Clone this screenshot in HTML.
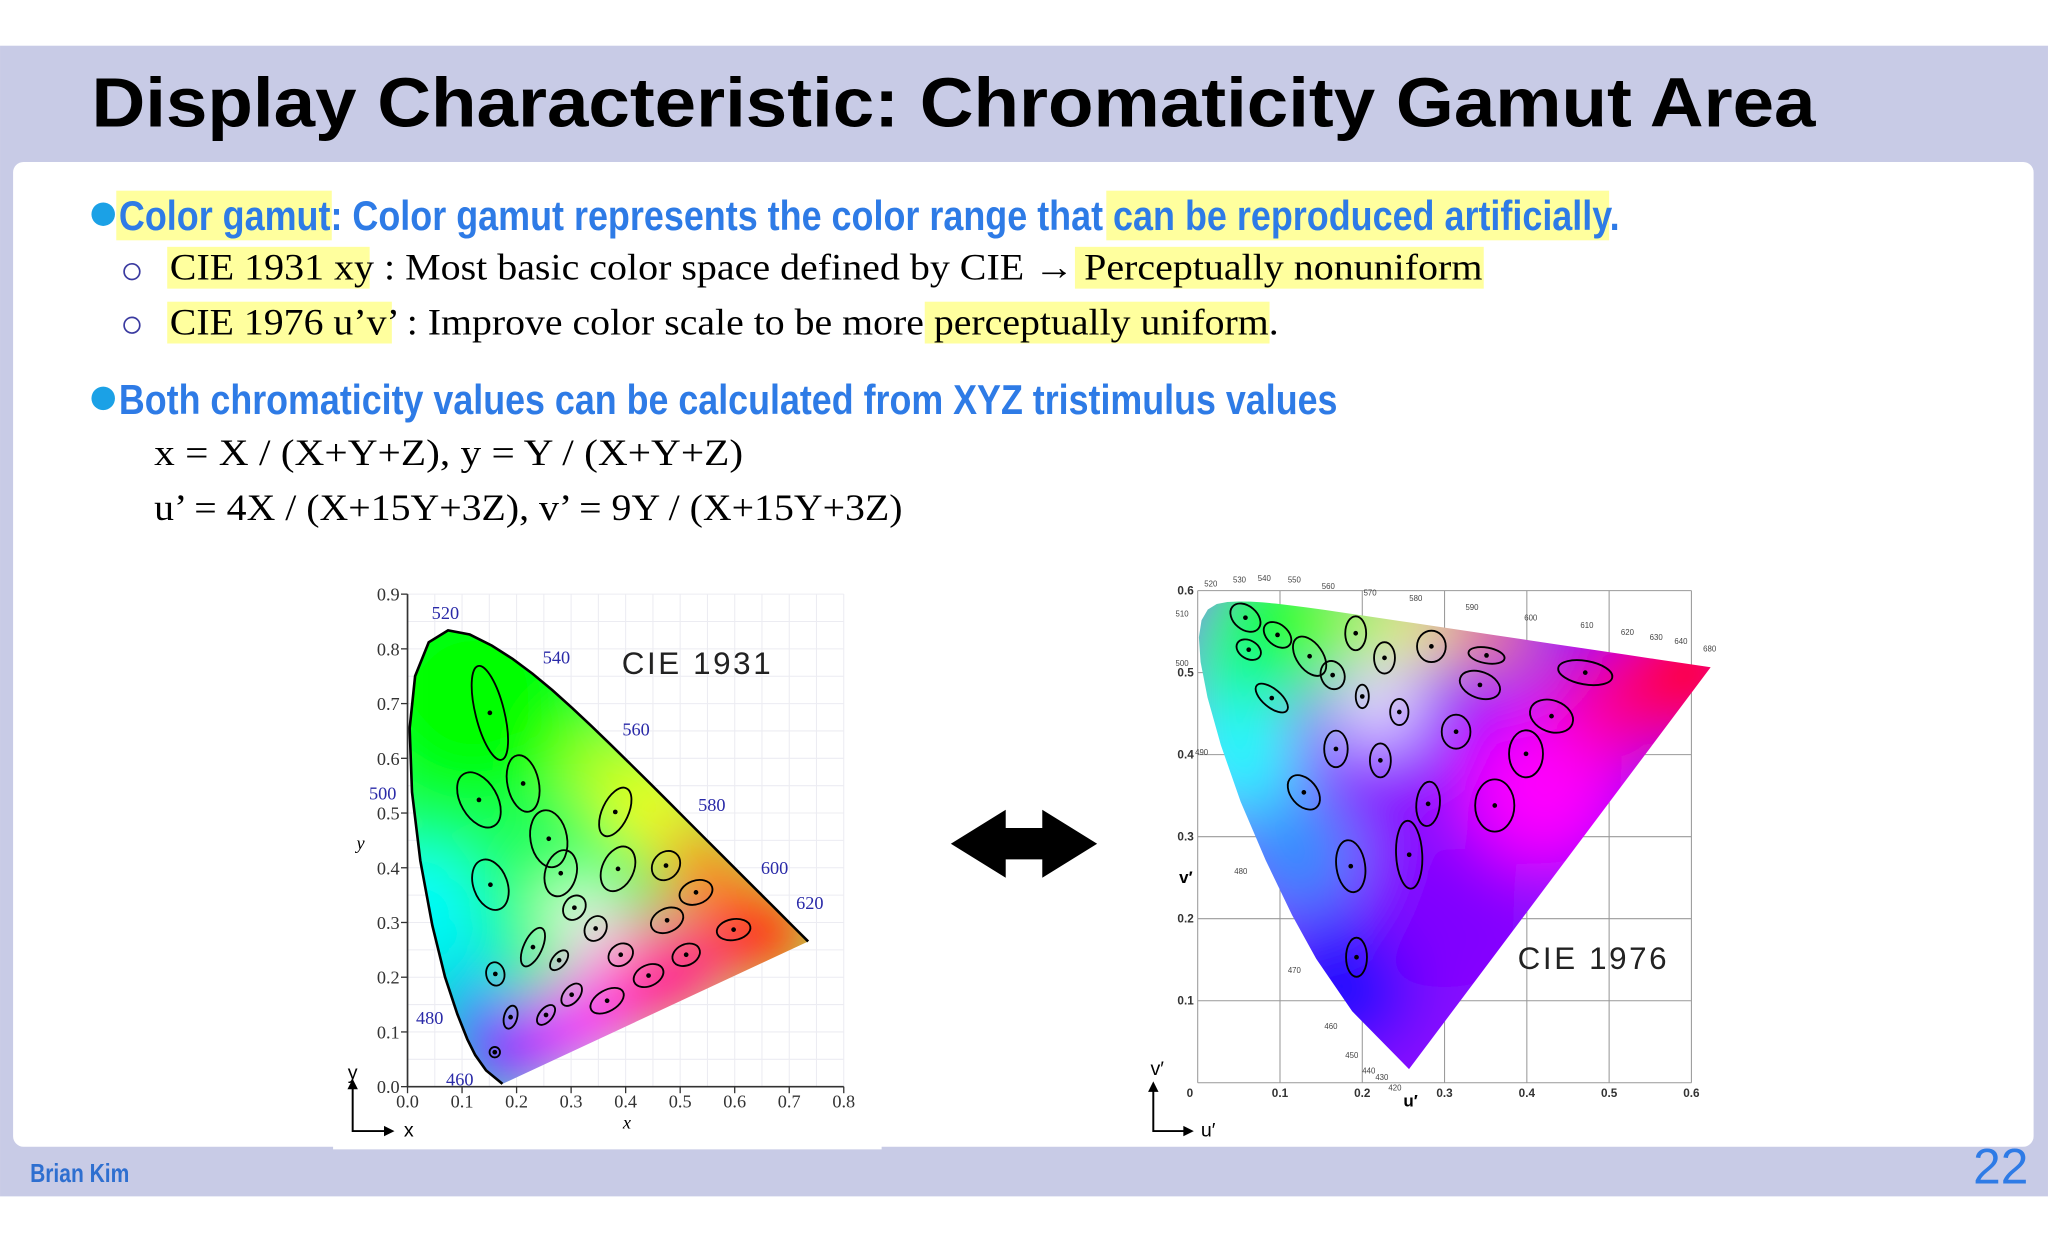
<!DOCTYPE html>
<html><head><meta charset="utf-8"><style>
html,body{margin:0;padding:0;background:#fff;}
svg{display:block;}
.sans{font-family:"Liberation Sans",sans-serif;}
.narrow{font-family:"Liberation Sans Narrow","Liberation Sans",sans-serif;}
.serif{font-family:"Liberation Serif",serif;}
</style></head><body>
<svg id="slide" width="2048" height="1243" viewBox="0 0 1568 951.7" xmlns="http://www.w3.org/2000/svg">
<defs>
<filter id="blur1" filterUnits="userSpaceOnUse" x="200" y="380" width="550" height="550"><feGaussianBlur stdDeviation="24"/></filter>
<filter id="blur2" filterUnits="userSpaceOnUse" x="850" y="380" width="550" height="550"><feGaussianBlur stdDeviation="26"/></filter>
<clipPath id="clip1931"><path id="clip1931p"/></clipPath>
<clipPath id="clip1976"><path id="clip1976p"/></clipPath>
</defs>
<rect x="0" y="0" width="1568" height="951.7" fill="#fff"/>
<rect x="0" y="35" width="1568" height="881" fill="#c8cbe6"/>
<rect x="10" y="124" width="1547" height="754" rx="8" fill="#fff"/>
<text class="sans" x="70" y="97" font-size="53" font-weight="bold" textLength="1320" lengthAdjust="spacingAndGlyphs">Display Characteristic: Chromaticity Gamut Area</text>

<circle cx="79" cy="164" r="9" fill="#1ba1e6"/>
<rect x="89" y="146" width="165" height="38" fill="#ffff9e"/>
<rect x="847" y="146" width="385" height="38" fill="#ffff9e"/>
<text class="narrow" x="91" y="176" font-size="32" font-weight="bold" fill="#2e7be6" textLength="1149" lengthAdjust="spacingAndGlyphs">Color gamut: Color gamut represents the color range that can be reproduced artificially.</text>

<rect x="128" y="189" width="155" height="32" fill="#ffff9e"/>
<rect x="823" y="189" width="313" height="32" fill="#ffff9e"/>
<circle cx="101" cy="208" r="6" fill="none" stroke="#3a3aa0" stroke-width="1.3"/>
<text class="serif" x="130" y="214" font-size="28" textLength="1005" lengthAdjust="spacingAndGlyphs">CIE 1931 xy : Most basic color space defined by CIE → Perceptually nonuniform</text>

<rect x="128" y="231" width="172" height="32" fill="#ffff9e"/>
<rect x="708" y="231" width="264" height="32" fill="#ffff9e"/>
<circle cx="101" cy="249" r="6" fill="none" stroke="#3a3aa0" stroke-width="1.3"/>
<text class="serif" x="130" y="256" font-size="28" textLength="849" lengthAdjust="spacingAndGlyphs">CIE 1976 u’v’ : Improve color scale to be more perceptually uniform.</text>

<circle cx="79" cy="305" r="9" fill="#1ba1e6"/>
<text class="narrow" x="91" y="317" font-size="32" font-weight="bold" fill="#2e7be6" textLength="933" lengthAdjust="spacingAndGlyphs">Both chromaticity values can be calculated from XYZ tristimulus values</text>
<text class="serif" x="118" y="356" font-size="28" textLength="451" lengthAdjust="spacingAndGlyphs">x = X / (X+Y+Z), y = Y / (X+Y+Z)</text>
<text class="serif" x="118" y="398" font-size="28" textLength="573" lengthAdjust="spacingAndGlyphs">u’ = 4X / (X+15Y+3Z), v’ = 9Y / (X+15Y+3Z)</text>

<path d="M728,646 L770,620 L770,634 L798,634 L798,620 L840,646 L798,672 L798,658 L770,658 L770,672 Z" fill="#000"/>

<g id="chart1931"></g>
<g id="chart1976"></g>

<text class="narrow" x="23" y="905" font-size="20" font-weight="bold" fill="#2e6fd0" textLength="76" lengthAdjust="spacingAndGlyphs">Brian Kim</text>
<text class="sans" x="1553" y="906" font-size="38" fill="#2e7be6" text-anchor="end">22</text>
</svg>
<script>
const locusX=[0.1741,0.1440,0.1241,0.1096,0.0913,0.0687,0.0454,0.0235,0.0082,0.0039,0.0139,0.0389,0.0743,0.1142,0.1547,0.1929,0.2296,0.2658,0.3016,0.3373,0.3731,0.4087,0.4441,0.4788,0.5125,0.5448,0.5752,0.6029,0.6270,0.6482,0.6658,0.6801,0.6915,0.7079,0.7347];
const locusY=[0.0050,0.0297,0.0578,0.0868,0.1327,0.2007,0.2950,0.4127,0.5384,0.6548,0.7502,0.8120,0.8338,0.8262,0.8059,0.7816,0.7543,0.7243,0.6923,0.6589,0.6245,0.5896,0.5547,0.5202,0.4866,0.4544,0.4242,0.3965,0.3725,0.3514,0.3340,0.3197,0.3083,0.2920,0.2653];
const e31X=[0.151,0.212,0.131,0.259,0.281,0.381,0.152,0.386,0.474,0.529,0.306,0.345,0.476,0.598,0.230,0.278,0.391,0.511,0.161,0.301,0.442,0.366,0.189,0.254,0.160];
const e31Y=[0.683,0.554,0.524,0.453,0.390,0.502,0.369,0.398,0.404,0.355,0.327,0.289,0.304,0.287,0.255,0.231,0.241,0.241,0.206,0.168,0.203,0.157,0.127,0.131,0.063];
const e76U=[0.058,0.097,0.062,0.136,0.192,0.164,0.227,0.284,0.351,0.090,0.200,0.245,0.343,0.471,0.168,0.222,0.314,0.430,0.399,0.129,0.280,0.361,0.186,0.257,0.193];
const e76V=[0.567,0.546,0.528,0.520,0.548,0.497,0.518,0.532,0.521,0.469,0.471,0.452,0.485,0.500,0.407,0.393,0.428,0.447,0.401,0.354,0.340,0.338,0.264,0.278,0.153];
const ticks31=["0.0","0.1","0.2","0.3","0.4","0.5","0.6","0.7","0.8","0.9"];
const ticksU=["0","0.1","0.2","0.3","0.4","0.5","0.6"];

const NS="http://www.w3.org/2000/svg";
function mk(tag,attrs,parent,txt){const e=document.createElementNS(NS,tag);for(const k in attrs)e.setAttribute(k,attrs[k]);if(txt!==undefined)e.textContent=txt;parent.appendChild(e);return e;}
const blob=(g,cx,cy,r,c)=>mk('circle',{cx,cy,r,fill:c},g);

// ----- CIE 1931 -----
const g1=document.getElementById('chart1931');
const X0=312,Y0=832,SX=417.5,SY=419;
const px=x=>X0+x*SX, py=y=>Y0-y*SY;
const bg1=mk('rect',{x:255,y:440,width:420,height:440,fill:'#fff'},g1);


for(let i=1;i<=16;i++){const l=mk('line',{x1:px(i*0.05),y1:py(0),x2:px(i*0.05),y2:py(0.9),stroke:'#ececf2','stroke-width':0.8},g1);}
for(let i=1;i<=18;i++){const l=mk('line',{x1:px(0),y1:py(i*0.05),x2:px(0.8),y2:py(i*0.05),stroke:'#ececf2','stroke-width':0.8},g1);}
let d1='M'+locusX.map((x,i)=>px(x)+','+py(locusY[i])).join(' L')+' Z';
document.getElementById('clip1931p').setAttribute('d',d1);
const fill1=mk('g',{'clip-path':'url(#clip1931)'},g1);


const bl1=mk('g',{filter:'url(#blur1)'},fill1);
mk('rect',{x:px(-0.1),y:py(1.0),width:SX*1.0,height:SY*1.1,fill:'#20ff60'},bl1);
blob(bl1,px(0.12),py(0.72),90,'#00ff00');
blob(bl1,px(0.02),py(0.32),50,'#00ffff');
blob(bl1,px(0.09),py(0.25),35,'#00f0f0');
blob(bl1,px(0.12),py(0.12),35,'#0090ff');
blob(bl1,px(0.16),py(0.04),35,'#2020ff');
blob(bl1,px(0.25),py(0.08),40,'#b000ff');
blob(bl1,px(0.35),py(0.13),40,'#ff00ff');
blob(bl1,px(0.48),py(0.2),50,'#ff0090');
blob(bl1,px(0.66),py(0.28),45,'#ff0000');
blob(bl1,px(0.55),py(0.4),35,'#ff8000');
blob(bl1,px(0.44),py(0.52),35,'#ffff00');
blob(bl1,px(0.36),py(0.58),30,'#c0ff00');
blob(bl1,px(0.31),py(0.32),22,'#ffffff');
blob(bl1,px(0.35),py(0.27),22,'#ffd0ff');
const loc1=mk('path',{d:d1.replace(/ Z$/,''),fill:'none',stroke:'#000','stroke-width':2},g1);


const ax1=mk('path',{d:`M${px(0)},${py(0.9)} L${px(0)},${py(0)} L${px(0.8)},${py(0)}`,fill:'none',stroke:'#333','stroke-width':1.3},g1);


ticks31.forEach((t,i)=>{
  const v=parseFloat(t);
  const a=mk('text',{x:X0-6,y:py(v)+5,'font-size':14,'text-anchor':'end',class:'serif',fill:'#333'},g1,t);
  
  mk('line',{x1:X0-5,y1:py(v),x2:X0,y2:py(v),stroke:'#333'},g1);
  if(v<=0.8){const b=mk('text',{x:px(v),y:Y0+16,'font-size':14,'text-anchor':'middle',class:'serif',fill:'#333'},g1,t);
  
  mk('line',{x1:px(v),y1:Y0,x2:px(v),y2:Y0+5,stroke:'#333'},g1);}
});
const xt=mk('text',{x:480,y:864,'font-size':14,'font-style':'italic',class:'serif','text-anchor':'middle'},g1,'x');

const yt=mk('text',{x:276,y:650,'font-size':14,'font-style':'italic',class:'serif','text-anchor':'middle'},g1,'y');

const wl31=[["520",341,474],["540",426,508],["560",487,563],["580",545,621],["600",593,669],["620",620,696],["500",293,612],["480",329,784],["460",352,831]];
wl31.forEach(w=>{const t=mk('text',{x:w[1],y:w[2],'font-size':14,class:'serif',fill:'#2a2aa8','text-anchor':'middle'},g1,w[0]);
});
const sz31=[[37,11,-14],[22,12,-12],[23,14,-30],[22,14,-10],[18,12,15],[20,10,25],[20,13,-20],[18,12,25],[12,10,40],[13,9,70],[10,8,35],[10,8,30],[13,9,65],[13,8,80],[16,7,25],[9,5,40],[10,8,55],[11,8,65],[9,7,-10],[10,6,40],[12,8,65],[14,8,60],[9,5,15],[9,5,40],[4,4,0]];
e31X.forEach((x,i)=>{const s=sz31[i];
  const e=mk('ellipse',{cx:px(x),cy:py(e31Y[i]),rx:s[1],ry:s[0],fill:'none',stroke:'#000','stroke-width':1.4,transform:`rotate(${s[2]} ${px(x)} ${py(e31Y[i])})`},g1);
  
  const c=mk('circle',{cx:px(x),cy:py(e31Y[i]),r:1.8,fill:'#000'},g1);
  
});
const tt1=mk('text',{x:476,y:516,'font-size':24,class:'sans','letter-spacing':2,fill:'#222'},g1,'CIE 1931');

const ca1=mk('path',{d:'M270,832 L270,866 L296,866',fill:'none',stroke:'#000','stroke-width':1.5},g1);

mk('path',{d:'M302,866 L294,862 L294,870 Z M270,826 L266,834 L274,834 Z',fill:'#000'},g1);
mk('text',{x:270,y:826,'font-size':15,class:'sans','text-anchor':'middle'},g1,'y');
mk('text',{x:313,y:870,'font-size':15,class:'sans','text-anchor':'middle'},g1,'x');

// ----- CIE 1976 -----
const g2=document.getElementById('chart1976');
const U0=917,V0=829,SU=630,SV=628;
const pu=u=>U0+u*SU, pv=v=>V0-v*SV;
for(let i=0;i<=6;i++){
  const v=i*0.1;
  const l1=mk('line',{x1:pu(v),y1:pv(0),x2:pu(v),y2:pv(0.6),stroke:'#999','stroke-width':0.8},g2);
  
  const l2=mk('line',{x1:pu(0),y1:pv(v),x2:pu(0.6),y2:pv(v),stroke:'#999','stroke-width':0.8},g2);
  
}
const uv=locusX.map((x,i)=>{const y=locusY[i];const d=-2*x+12*y+3;return [4*x/d,9*y/d];});
let d2='M'+uv.map(p=>pu(p[0])+','+pv(p[1])).join(' L')+' Z';
document.getElementById('clip1976p').setAttribute('d',d2);
const fill2=mk('g',{'clip-path':'url(#clip1976)'},g2);


const bl2=mk('g',{filter:'url(#blur2)'},fill2);
mk('rect',{x:pu(-0.1),y:pv(0.7),width:SU*0.85,height:SV*0.8,fill:'#8a10ff'},bl2);
blob(bl2,pu(0.1),pv(0.56),60,'#00ff00');
blob(bl2,pu(0.04),pv(0.5),40,'#00ff80');
blob(bl2,pu(0.05),pv(0.4),45,'#00ffff');
blob(bl2,pu(0.12),pv(0.28),45,'#2090ff');
blob(bl2,pu(0.18),pv(0.12),55,'#0010ff');
blob(bl2,pu(0.3),pv(0.2),55,'#8000ff');
blob(bl2,pu(0.42),pv(0.36),60,'#ff00ff');
blob(bl2,pu(0.5),pv(0.46),40,'#ff0090');
blob(bl2,pu(0.6),pv(0.5),55,'#ff0030');
blob(bl2,pu(0.36),pv(0.55),30,'#ff8000');
blob(bl2,pu(0.26),pv(0.56),32,'#ffff00');
blob(bl2,pu(0.19),pv(0.57),30,'#a0ff00');
blob(bl2,pu(0.22),pv(0.46),28,'#ffffff');
ticksU.forEach(t=>{const v=parseFloat(t);
  const a=mk('text',{x:pu(v),y:V0+11,'font-size':9,'font-weight':'bold',class:'sans','text-anchor':'middle',fill:'#333'},g2,t);
  if(v===0)a.setAttribute('x',U0-6);
  
  if(v>0){const b=mk('text',{x:U0-3,y:pv(v)+3,'font-size':9,'font-weight':'bold',class:'sans','text-anchor':'end',fill:'#333'},g2,t);
  }
});
const ut=mk('text',{x:1080,y:847,'font-size':13,'font-weight':'bold',class:'sans','text-anchor':'middle'},g2,'u′');

const vt=mk('text',{x:908,y:676,'font-size':13,'font-weight':'bold',class:'sans','text-anchor':'middle'},g2,'v′');

const wl76=[["520",927,449],["530",949,446],["540",968,445],["550",991,446],["560",1017,451],["570",1049,456],["580",1084,460],["590",1127,467],["600",1172,475],["610",1215,481],["620",1246,486],["630",1268,490],["640",1287,493],["680",1309,499],["510",905,472],["500",905,510],["490",920,578],["480",950,669],["470",991,745],["460",1019,788],["450",1035,810],["440",1048,822],["430",1058,827],["420",1068,835]];
wl76.forEach(w=>{const t=mk('text',{x:w[1],y:w[2],'font-size':6,class:'sans',fill:'#444','text-anchor':'middle'},g2,w[0]);
});
const sz76=[[13,9,-50],[12,8,-50],[10,7,-60],[17,10,-35],[13,8,0],[11,9,-20],[12,8,0],[12,11,0],[14,6,-80],[15,7,-50],[9,5,0],[10,7,0],[16,10,-70],[21,9,-80],[14,9,0],[13,8,0],[13,11,0],[17,12,-70],[18,13,0],[15,10,-40],[17,9,5],[20,15,0],[20,11,-8],[26,10,-3],[15,8,0]];
e76U.forEach((u,i)=>{const s=sz76[i];
  const e=mk('ellipse',{cx:pu(u),cy:pv(e76V[i]),rx:s[1],ry:s[0],fill:'none',stroke:'#000','stroke-width':1.4,transform:`rotate(${s[2]} ${pu(u)} ${pv(e76V[i])})`},g2);
  
  const c=mk('circle',{cx:pu(u),cy:pv(e76V[i]),r:1.8,fill:'#000'},g2);
  
});
const tt2=mk('text',{x:1162,y:742,'font-size':24,class:'sans','letter-spacing':2,fill:'#222'},g2,'CIE 1976');

const ca2=mk('path',{d:'M883,834 L883,866 L908,866',fill:'none',stroke:'#000','stroke-width':1.5},g2);

mk('path',{d:'M914,866 L906,862 L906,870 Z M883,828 L879,836 L887,836 Z',fill:'#000'},g2);
mk('text',{x:886,y:823,'font-size':15,class:'sans','text-anchor':'middle'},g2,'v′');
mk('text',{x:925,y:870,'font-size':15,class:'sans','text-anchor':'middle'},g2,'u′');
</script>
</body></html>
